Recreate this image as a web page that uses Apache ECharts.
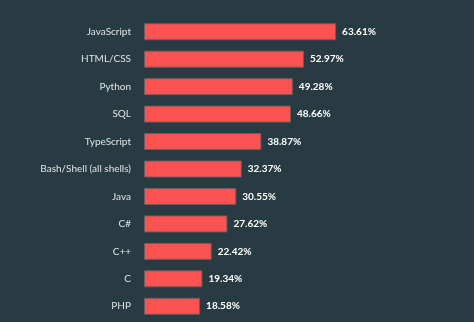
<!DOCTYPE html>
<html><head><meta charset="utf-8">
<script src="https://cdn.jsdelivr.net/npm/echarts@6/dist/echarts.min.js"></script>
<style>html,body{margin:0;padding:0;background:#283b42;}#c{width:474px;height:322px;}</style>
</head><body><div id="c"></div>
<script>
const categories = ["JavaScript","HTML/CSS","Python","SQL","TypeScript","Bash/Shell (all shells)","Java","C#","C++","C","PHP"];
const values = [63.61,52.97,49.28,48.66,38.87,32.37,30.55,27.62,22.42,19.34,18.58];

const chart = echarts.init(document.getElementById('c'), null, {renderer:'canvas'});
chart.setOption({
  backgroundColor:'#283b42',
  animation:false,
  grid:{left:144, right:28, top:18, bottom:2, containLabel:false},
  xAxis:{type:'value', min:0, max:100, show:false},
  yAxis:{type:'category', data:categories, inverse:true,
    axisLine:{show:false}, axisTick:{show:false},
    axisLabel:{color:'#dfe3e5', fontSize:10, fontFamily:'Lato', margin:13}},
  series:[{type:'bar', data:values, barWidth:17,
    itemStyle:{color:'#fb5252', borderColor:'#6e5b5e', borderWidth:1},
    label:{show:true, position:'right', distance:6, color:'#ffffff', fontWeight:'bold',
      fontSize:10, fontFamily:'Lato', formatter:p=>p.value.toFixed(2)+'%'}}]
});
</script></body></html>
